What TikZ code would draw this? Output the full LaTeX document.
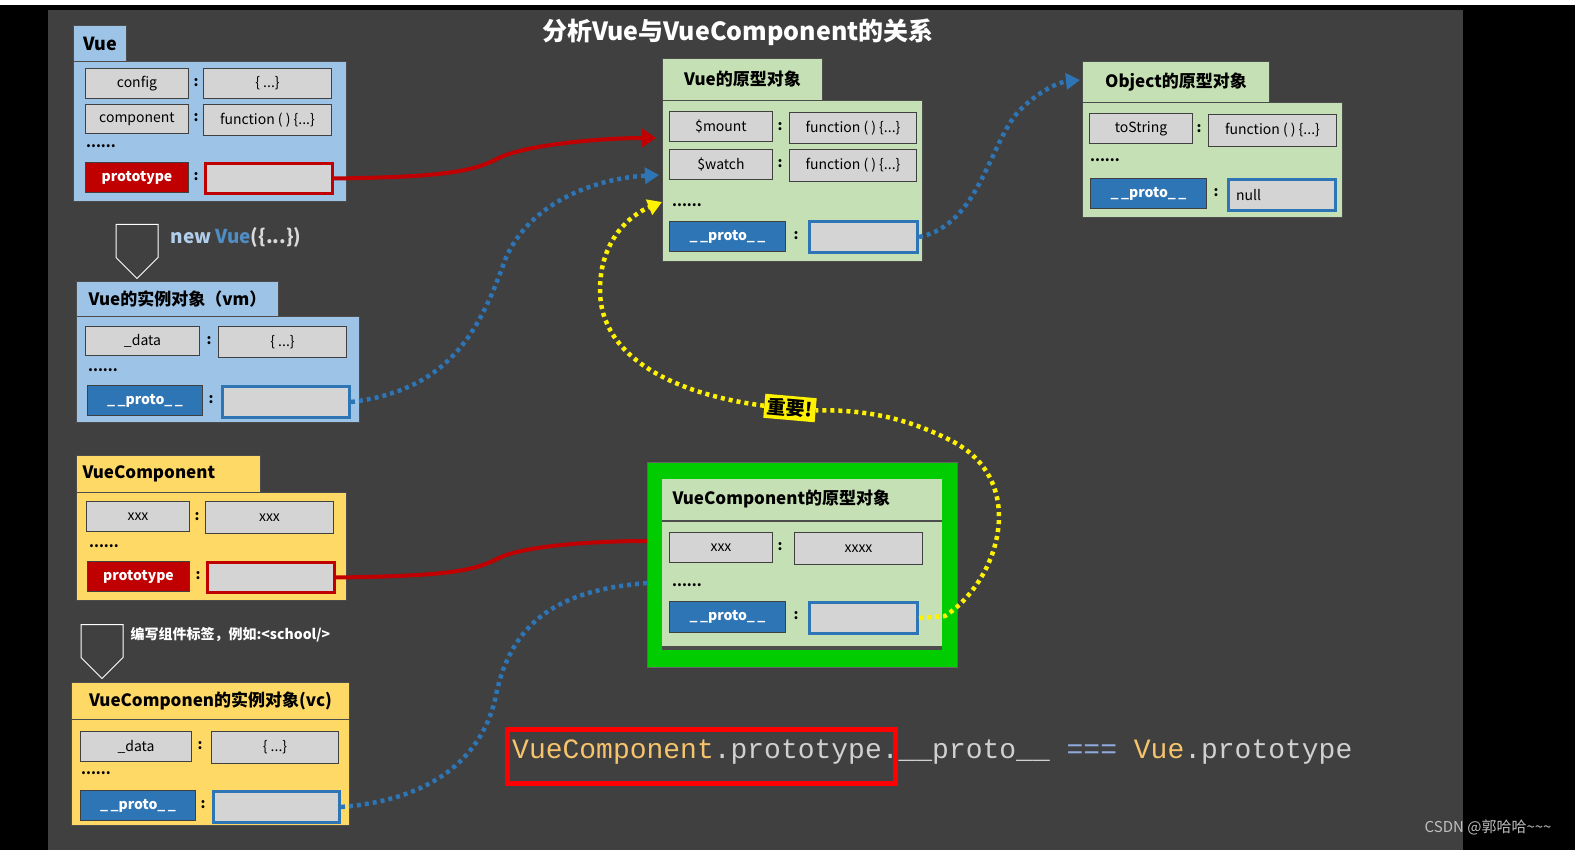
\documentclass[tikz,border=0pt]{standalone}
\usepackage{fontspec}
\setmainfont{Noto Sans CJK SC}
\newfontfamily\codef{Liberation Mono}
\usetikzlibrary{arrows.meta,shapes.arrows}
\definecolor{bg}{HTML}{404040}
\definecolor{cblue}{HTML}{9DC3E6}
\definecolor{cgreen}{HTML}{C5E0B4}
\definecolor{cyel}{HTML}{FFD966}
\definecolor{cgray}{HTML}{D4D4D4}
\definecolor{cred}{HTML}{C00000}
\definecolor{pblue}{HTML}{2E75B6}
\definecolor{dotblue}{HTML}{2E75B6}
\definecolor{codeor}{HTML}{F7C46C}
\definecolor{codegr}{HTML}{D0D0D0}
\definecolor{codebl}{HTML}{8FAADC}
\newcommand\bx[7]{\node[#2, anchor=north west, minimum width=#5pt, minimum height=#6pt] (#1) at (#3,#4) {#7};}
\tikzset{
 panel/.style={draw=black!70, line width=1pt, inner sep=0pt},
 tabt/.style={panel, font=\bfseries\fontsize{18}{20}\selectfont, text=black, align=left, text width=#1},
 tabt/.default=40pt,
 cell/.style={draw=black!75, fill=cgray, line width=1pt, inner sep=0pt, font=\fontsize{14}{16}\selectfont, text=black},
 redcell/.style={cell, fill=cred, text=white, font=\bfseries\fontsize{14}{16}\selectfont},
 bluecell/.style={cell, fill=pblue, text=white, font=\bfseries\fontsize{14}{16}\selectfont},
 redval/.style={cell, draw=cred, line width=3pt},
 blueval/.style={cell, draw=pblue, line width=3pt},
 colon/.style={inner sep=0pt, font=\bfseries\fontsize{14}{16}\selectfont, text=black},
 dots/.style={inner sep=0pt, font=\bfseries\fontsize{14}{16}\selectfont, text=black, anchor=west},
 redarrow/.style={draw=cred, line width=4pt, -{Triangle[length=14pt,width=18pt]}},
 redline/.style={draw=cred, line width=4pt},
 bluedot/.style={draw=dotblue, line width=4.5pt, dash pattern=on 4pt off 4pt},
 yeldot/.style={draw=yellow, line width=4.5pt, dash pattern=on 4pt off 4pt},
 hollow/.style={single arrow, draw=white, fill=bg, line width=1pt, shape border rotate=270, minimum height=54pt, minimum width=42pt, single arrow head extend=0pt, single arrow tip angle=90, inner sep=5pt},
}
\begin{document}
\begin{tikzpicture}[x=1pt,y=-1pt]
\useasboundingbox (0,0) rectangle (1575,850);
\fill[black] (0,0) rectangle (1575,850);
\fill[white] (0,0) rectangle (1575,5);
\fill[bg] (48,10) rectangle (1463,850);
\node[text=white, font=\bfseries\fontsize{25}{28}\selectfont] (title) at (738,32) {分析Vue与VueComponent的关系};

% ---- Vue
\bx{vuebody}{panel,fill=cblue}{73}{61}{273}{140}{}
\bx{vuetab}{panel,fill=cblue,font=\bfseries\fontsize{18}{20}\selectfont}{73}{25}{53}{36}{Vue}
\bx{vk1}{cell}{85}{68}{103}{30}{config}
\bx{vv1}{cell}{203}{68}{128}{30}{\{ ...\}}
\bx{vk2}{cell}{85}{104}{103}{29}{component}
\bx{vv2}{cell}{203}{104}{128}{31}{function ( ) \{...\}}
\node[dots] (vdots) at (86,146) {......};
\bx{vk3}{redcell}{85}{162}{103}{30}{prototype}
\bx{vv3}{redval}{204}{162}{127}{30}{}
\node[colon] at (196,83) {:};
\node[colon] at (196,118) {:};
\node[colon] at (196,177) {:};

\node[hollow] (arr1) at (137,241) {};
\node[anchor=west, font=\bfseries\fontsize{19}{22}\selectfont] (newvue) at (167,237) {\textcolor{cblue!80!white}{new} \textcolor{pblue!70!cblue}{Vue}\textcolor{white!85!black}{(\{...\})}};

% ---- vm
\bx{vmbody}{panel,fill=cblue}{76}{316}{283}{106}{}
\bx{vmtab}{panel,fill=cblue,font=\bfseries\fontsize{17}{20}\selectfont}{76}{281}{202}{35}{Vue的实例对象（vm）}
\bx{mk1}{cell}{85}{326}{114}{29}{\_data}
\bx{mv1}{cell}{218}{326}{128}{31}{\{ ...\}}
\node[dots] (mdots) at (88,370) {......};
\bx{mk2}{bluecell}{87}{385}{115}{30}{\_\,\_proto\_\,\_}
\bx{mv2}{blueval}{221}{385}{127}{31}{}
\node[colon] at (209,341) {:};
\node[colon] at (211,400) {:};

% ---- VueComponent
\bx{vcbody}{panel,fill=cyel}{76}{492}{270}{108}{}
\bx{vctab}{panel,fill=cyel,font=\bfseries\fontsize{17}{20}\selectfont,text width=172pt,align=left}{76}{455}{184}{37}{VueComponent}
\bx{ck1}{cell}{86}{501}{103}{30}{xxx}
\bx{cv1}{cell}{205}{501}{128}{32}{xxx}
\node[dots] (cdots) at (89,546) {......};
\bx{ck2}{redcell}{87}{561}{102}{30}{prototype}
\bx{cv2}{redval}{206}{561}{127}{30}{}
\node[colon] at (197,517) {:};
\node[colon] at (198,576) {:};

\node[hollow] (arr2) at (102,641) {};
\node[anchor=west, text=white, font=\bfseries\fontsize{14}{16}\selectfont] (tagtxt) at (127,635) {编写组件标签，例如:<school/>};

% ---- vc
\bx{vcibody}{panel,fill=cyel}{71}{719}{278}{106}{}
\bx{vcitab}{panel,fill=cyel,font=\bfseries\fontsize{17}{20}\selectfont}{71}{682}{278}{37}{VueComponen的实例对象(vc)}
\bx{ik1}{cell}{80}{731}{111}{30}{\_data}
\bx{iv1}{cell}{211}{731}{127}{32}{\{ ...\}}
\node[dots] (idots) at (81,773) {......};
\bx{ik2}{bluecell}{80}{790}{115}{30}{\_\,\_proto\_\,\_}
\bx{iv2}{blueval}{212}{790}{126}{31}{}
\node[colon] at (200,746) {:};
\node[colon] at (203,805) {:};

% ---- Vue prototype
\bx{vpbody}{panel,fill=cgreen}{662}{100}{260}{161}{}
\bx{vptab}{panel,fill=cgreen,font=\bfseries\fontsize{17}{20}\selectfont}{662}{58}{160}{42}{Vue的原型对象}
\bx{pk1}{cell}{669}{111}{103}{30}{\$mount}
\bx{pv1}{cell}{789}{112}{127}{31}{function ( ) \{...\}}
\bx{pk2}{cell}{669}{149}{103}{30}{\$watch}
\bx{pv2}{cell}{789}{149}{127}{32}{function ( ) \{...\}}
\node[dots] (pdots) at (672,205) {......};
\bx{pk3}{bluecell}{669}{221}{116}{30}{\_\,\_proto\_\,\_}
\bx{pv3}{blueval}{808}{220}{108}{31}{}
\node[colon] at (780,127) {:};
\node[colon] at (780,164) {:};
\node[colon] at (796,236) {:};

% ---- Object prototype
\bx{obody}{panel,fill=cgreen}{1082}{102}{260}{115}{}
\bx{otab}{panel,fill=cgreen,font=\bfseries\fontsize{17}{20}\selectfont}{1082}{61}{187}{41}{Object的原型对象}
\bx{ok1}{cell}{1089}{113}{103}{30}{toString}
\bx{ov1}{cell}{1208}{114}{128}{32}{function ( ) \{...\}}
\node[dots] (odots) at (1090,160) {......};
\bx{ok2}{bluecell}{1090}{178}{116}{30}{\_\,\_proto\_\,\_}
\bx{ov2}{blueval,text width=92pt,align=left}{1227}{178}{107}{31}{null}
\node[colon] at (1199,129) {:};
\node[colon] at (1216,193) {:};

% ---- VueComponent prototype
\bx{gout}{draw=black!60, fill=green!80!black, line width=0.5pt, inner sep=0pt}{647}{462}{310}{205}{}
\bx{gin}{fill=cgreen, inner sep=0pt}{662}{479}{280}{171}{}
\draw[black!70, line width=2pt] (662,521) -- (942,521);
\draw[black!70, line width=4pt] (662,648) -- (942,648);
\node[anchor=west, font=\bfseries\fontsize{17}{20}\selectfont] (gtitle) at (669,499) {VueComponent的原型对象};
\bx{gk1}{cell}{669}{532}{103}{30}{xxx}
\bx{gv1}{cell}{794}{532}{128}{32}{xxxx}
\node[dots] (gdots) at (672,585) {......};
\bx{gk2}{bluecell}{669}{601}{116}{31}{\_\,\_proto\_\,\_}
\bx{gv2}{blueval}{808}{601}{108}{31}{}
\node[colon] at (780,547) {:};
\node[colon] at (796,616) {:};

% ---- connectors
\coordinate (vpin) at (656,138);
\draw[redarrow] (vv3.east) .. controls (440,177) and (470,172) .. (495,160) .. controls (520,145) and (600,138) .. (vpin);
\coordinate (vpin2) at (659,175);
\draw[bluedot, -{Triangle[length=14pt,width=16pt]}] (mv2.east) .. controls (450,390) and (480,330) .. (505,260) .. controls (530,200) and (600,178) .. (vpin2);
\coordinate (oin) at (1080,80);
\draw[bluedot, -{Triangle[length=14pt,width=16pt]}] (pv3.east) .. controls (980,225) and (990,140) .. (1020,110) .. controls (1040,90) and (1060,82) .. (oin);
\draw[redline] (cv2.east) .. controls (440,576) and (470,572) .. (495,560) .. controls (520,545) and (600,541) .. (gout.west |- 0,541);
\draw[bluedot] (iv2.east) .. controls (430,800) and (480,760) .. (495,700) .. controls (510,620) and (560,590) .. (gout.west |- 0,583);
\coordinate (vpin3) at (662,202);
\node[fill=yellow, rotate=-5, inner sep=3pt, font=\bfseries\itshape\fontsize{19}{22}\selectfont, text=black] (imp) at (790,408) {重要!};
\draw[yeldot] (gv2.east) -- (945,616) .. controls (1000,580) and (1030,480) .. (950,440) .. controls (900,415) and (860,410) .. (imp.east);
\draw[yeldot, -{Triangle[length=14pt,width=16pt]}] (imp.west) .. controls (680,395) and (600,360) .. (600,290) .. controls (600,240) and (630,215) .. (vpin3);

% ---- formula
\node[draw=red, line width=5pt, minimum width=388pt, minimum height=54pt, anchor=north west, inner sep=0pt] (fbox) at (505,727) {};
\node[anchor=west, inner sep=0pt, font=\codef\fontsize{28}{30}\selectfont] (formula) at (512,752) {\textcolor{codeor}{VueComponent}\textcolor{codegr}{.prototype.\_\_proto\_\_} \textcolor{codebl}{===} \textcolor{codeor}{Vue}\textcolor{codegr}{.prototype}};
\node[anchor=east, text=white!75!black, font=\fontsize{15}{17}\selectfont] (wm) at (1555,827) {CSDN @郭哈哈\textasciitilde\textasciitilde\textasciitilde};
\end{tikzpicture}
\end{document}
